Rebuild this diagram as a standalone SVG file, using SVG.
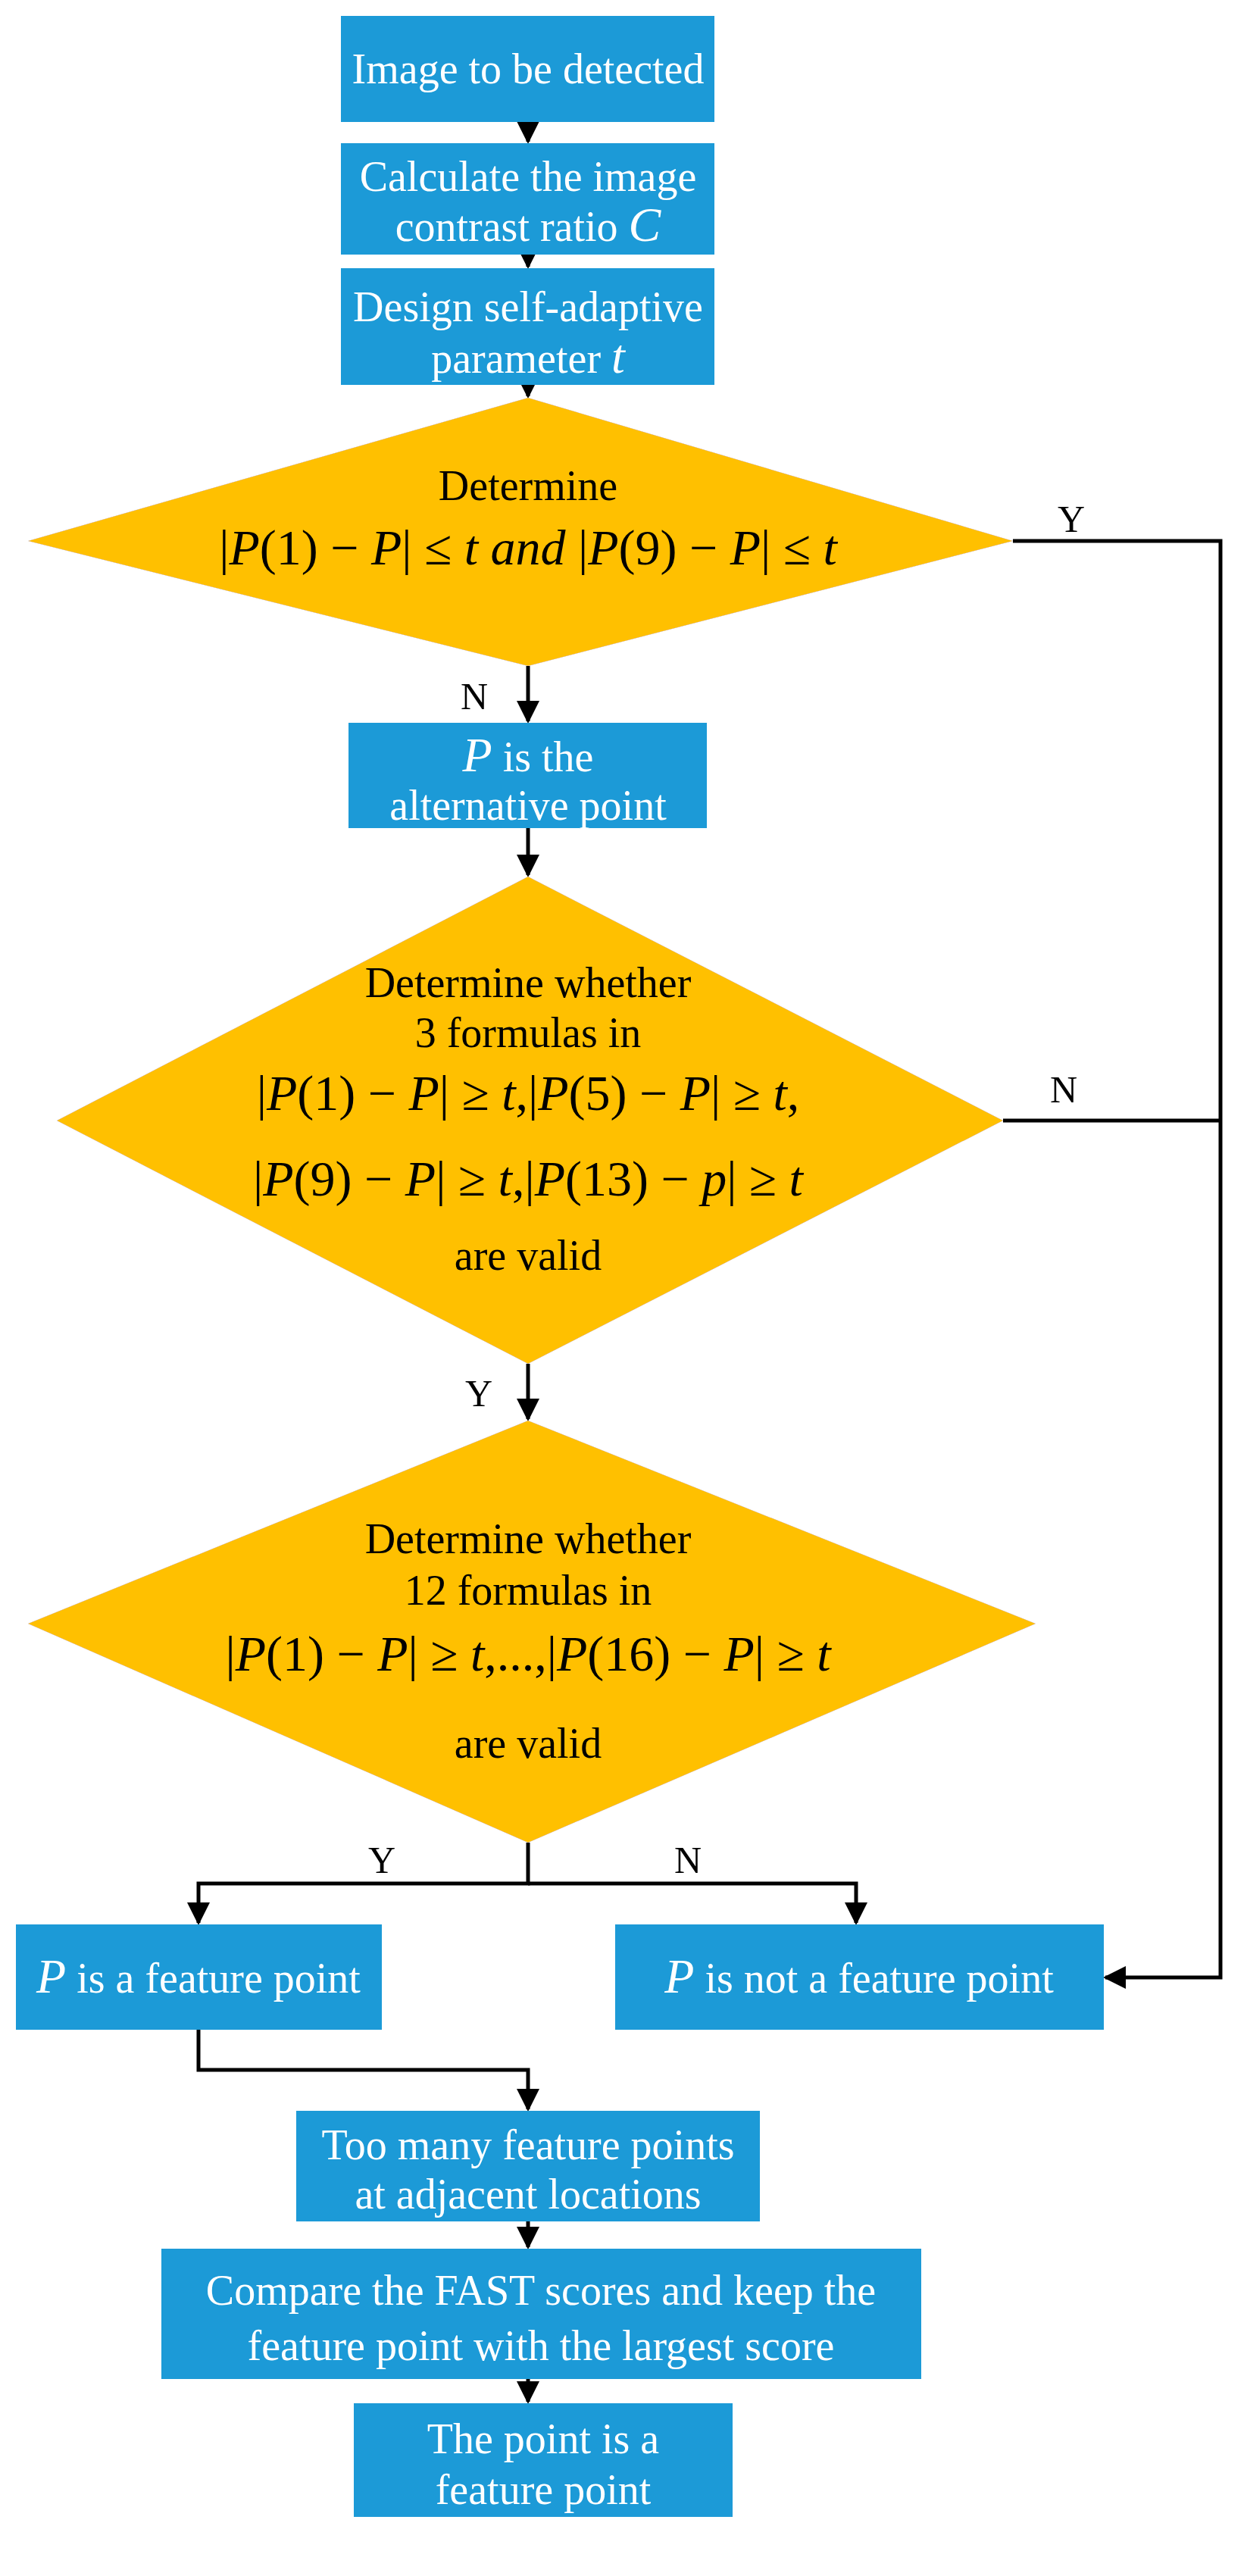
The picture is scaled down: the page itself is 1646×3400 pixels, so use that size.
<svg xmlns="http://www.w3.org/2000/svg" width="1646" height="3400" viewBox="0 0 1646 3400">
<style>
.box{fill:#1b9ad7}
.dia{fill:#ffc000}
.bt{font-family:"Liberation Serif",serif;font-size:56px;fill:#fff;text-anchor:middle}
.dt{font-family:"Liberation Serif",serif;font-size:56px;fill:#000;text-anchor:middle}
.ft{font-family:"Liberation Serif",serif;font-size:66px;fill:#000;text-anchor:middle}
.lb{font-family:"Liberation Serif",serif;font-size:50px;fill:#000;text-anchor:middle}
.i{font-style:italic}
.c{fill:none;stroke:#000;stroke-width:5}
</style>
<defs>
<marker id="ah" viewBox="0 0 10 10" refX="9" refY="5" markerWidth="7" markerHeight="6" orient="auto" markerUnits="strokeWidth">
<path d="M0,0 L10,5 L0,10 z" fill="#000"/>
</marker>
<filter id="sh" x="-10%" y="-10%" width="120%" height="140%">
<feGaussianBlur in="SourceAlpha" stdDeviation="6"/>
<feOffset dx="0" dy="10"/>
<feComponentTransfer><feFuncA type="linear" slope="0.25"/></feComponentTransfer>
<feFlood flood-color="#5aa9e6"/>
<feComposite operator="in" in2="SourceGraphic"/>
<feMerge><feMergeNode/><feMergeNode in="SourceGraphic"/></feMerge>
</filter>
</defs>
<rect width="1646" height="3400" fill="#fff"/>
<g id="connectors">
<line class="c" x1="697" y1="161" x2="697" y2="187" marker-end="url(#ah)"/>
<line class="c" x1="697" y1="336" x2="697" y2="352" marker-end="url(#ah)"/>
<line class="c" x1="697" y1="508" x2="697" y2="523" marker-end="url(#ah)"/>
<line class="c" x1="697" y1="879" x2="697" y2="952" marker-end="url(#ah)"/>
<line class="c" x1="697" y1="1093" x2="697" y2="1155" marker-end="url(#ah)"/>
<line class="c" x1="697" y1="1800" x2="697" y2="1873" marker-end="url(#ah)"/>
<polyline class="c" points="1337,714 1611,714 1611,2610 1459,2610" marker-end="url(#ah)"/>
<line class="c" x1="1324" y1="1479" x2="1611" y2="1479"/>
<polyline class="c" points="697,2432 697,2486 262,2486 262,2538" marker-end="url(#ah)"/>
<polyline class="c" points="697,2486 1130,2486 1130,2538" marker-end="url(#ah)"/>
<polyline class="c" points="262,2679 262,2732 697,2732 697,2784" marker-end="url(#ah)"/>
<line class="c" x1="697" y1="2932" x2="697" y2="2966" marker-end="url(#ah)"/>
<line class="c" x1="697" y1="3140" x2="697" y2="3170" marker-end="url(#ah)"/>
<text class="lb" x="1414" y="702">Y</text>
<text class="lb" x="626" y="936">N</text>
<text class="lb" x="1404" y="1455">N</text>
<text class="lb" x="632" y="1856">Y</text>
<text class="lb" x="504" y="2472">Y</text>
<text class="lb" x="908" y="2472">N</text>
</g>
<g id="n1" filter="url(#sh)"><rect class="box" x="450" y="21" width="493" height="140"/><text class="bt" x="697" y="110">Image to be detected</text></g>
<g id="n2" filter="url(#sh)"><rect class="box" x="450" y="189" width="493" height="147"/><text class="bt" x="697" y="252">Calculate the image</text><text class="bt" x="697" y="318">contrast ratio <tspan class="i" font-size="64">C</tspan></text></g>
<g id="n3" filter="url(#sh)"><rect class="box" x="450" y="354" width="493" height="154"/><text class="bt" x="697" y="424">Design self-adaptive</text><text class="bt" x="697" y="492">parameter <tspan class="i" font-size="64">t</tspan></text></g>
<g id="d1" filter="url(#sh)"><polygon class="dia" points="697,525 1337,714 697,879 37,714"/>
<text class="dt" x="697" y="660">Determine</text>
<text class="ft" x="697" y="745">|<tspan class="i">P</tspan>(1) − <tspan class="i">P</tspan>| ≤ <tspan class="i">t and</tspan>  |<tspan class="i">P</tspan>(9) − <tspan class="i">P</tspan>| ≤ <tspan class="i">t</tspan></text></g>
<g id="n4" filter="url(#sh)"><rect class="box" x="460" y="954" width="473" height="139"/><text class="bt" x="697" y="1018"><tspan class="i" font-size="64">P</tspan>  is the</text><text class="bt" x="697" y="1082">alternative point</text></g>
<g id="d2" filter="url(#sh)"><polygon class="dia" points="697,1157 1324,1479 697,1800 75,1479"/>
<text class="dt" x="697" y="1316">Determine whether</text>
<text class="dt" x="697" y="1382">3 formulas in</text>
<text class="ft" x="697" y="1465">|<tspan class="i">P</tspan>(1) − <tspan class="i">P</tspan>| ≥ <tspan class="i">t</tspan>,|<tspan class="i">P</tspan>(5) − <tspan class="i">P</tspan>| ≥ <tspan class="i">t</tspan>,</text>
<text class="ft" x="697" y="1578">|<tspan class="i">P</tspan>(9) − <tspan class="i">P</tspan>| ≥ <tspan class="i">t</tspan>,|<tspan class="i">P</tspan>(13) − <tspan class="i">p</tspan>| ≥ <tspan class="i">t</tspan></text>
<text class="dt" x="697" y="1676">are valid</text></g>
<g id="d3" filter="url(#sh)"><polygon class="dia" points="697,1875 1367,2143 697,2432 37,2143"/>
<text class="dt" x="697" y="2050">Determine whether</text>
<text class="dt" x="697" y="2118">12 formulas in</text>
<text class="ft" x="697" y="2205">|<tspan class="i">P</tspan>(1) − <tspan class="i">P</tspan>| ≥ <tspan class="i">t</tspan>,...,|<tspan class="i">P</tspan>(16) − <tspan class="i">P</tspan>| ≥ <tspan class="i">t</tspan></text>
<text class="dt" x="697" y="2320">are valid</text></g>
<g id="n5" filter="url(#sh)"><rect class="box" x="21" y="2540" width="483" height="139"/><text class="bt" x="262" y="2630"><tspan class="i" font-size="64">P</tspan> is a feature point</text></g>
<g id="n6" filter="url(#sh)"><rect class="box" x="812" y="2540" width="645" height="139"/><text class="bt" x="1134" y="2630"><tspan class="i" font-size="64">P</tspan>  is not a feature point</text></g>
<g id="n7" filter="url(#sh)"><rect class="box" x="391" y="2786" width="612" height="146"/><text class="bt" x="697" y="2850">Too many feature points</text><text class="bt" x="697" y="2915">at adjacent locations</text></g>
<g id="n8" filter="url(#sh)"><rect class="box" x="213" y="2968" width="1003" height="172"/><text class="bt" x="714" y="3042">Compare the FAST scores and keep the</text><text class="bt" x="714" y="3115">feature point with the largest score</text></g>
<g id="n9" filter="url(#sh)"><rect class="box" x="467" y="3172" width="500" height="150"/><text class="bt" x="717" y="3238">The point is a</text><text class="bt" x="717" y="3305">feature point</text></g>
</svg>
